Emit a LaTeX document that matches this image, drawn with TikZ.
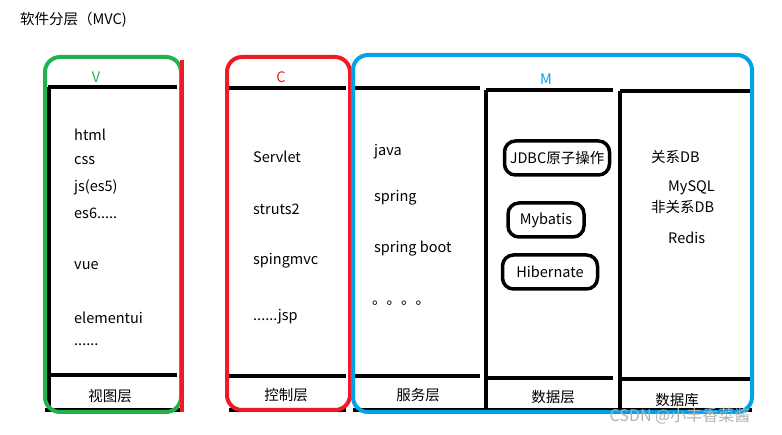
\documentclass[tikz,border=0pt]{standalone}
\usepackage{fontspec}
\setmainfont{Noto Sans CJK SC}
\definecolor{vgreen}{RGB}{34,177,76}
\definecolor{cred}{RGB}{237,28,36}
\definecolor{mblue}{RGB}{0,162,232}
\tikzset{
  txt/.style={anchor=west, inner sep=0, font=\fontsize{14.5}{16}\selectfont},
  lbl/.style={inner sep=0, font=\fontsize{14.5}{16}\selectfont},
  bar/.style={line width=4pt},
  frame/.style={line width=4pt, rounded corners=15pt},
  oval/.style={draw, line width=3.5pt, rounded corners=11pt, inner sep=3pt, minimum height=34pt, font=\fontsize{14.5}{16}\selectfont}
}
\begin{document}
\begin{tikzpicture}[x=1pt,y=-1pt]
\useasboundingbox (0,0) rectangle (782,435);
\node[txt](T)at(20,20){软件分层（MVC)};
% V
\draw[bar](49,87)--(49,412);
\draw[bar](48,87)--(177,87);
\draw[bar](48,375)--(177,375);
\draw[bar](45,410)--(184,410);
\draw[frame, vgreen](45,57) rectangle (181,412);
\draw[line width=4pt, cred](182,60)--(182,412);
\node[lbl, text=vgreen](V)at(96,77){V};
\node[txt](html)at(74,135){html};
\node[txt](css)at(74,161){css};
\node[txt](js)at(74,187){js(es5)};
\node[txt](es6)at(74,213){es6.....};
\node[txt](vue)at(74,266){vue};
\node[txt](eui)at(74,318){elementui};
\node[txt](etc)at(74,345){......};
\node[lbl](view)at(110,396){视图层};
% C
\draw[bar](229,88)--(346,88);
\draw[bar](229,376)--(346,376);
\draw[bar](229,410)--(346,410);
\draw[frame, cred](227,57) rectangle (350,410);
\node[lbl, text=cred](C)at(281,77){C};
\node[txt](srv)at(253,157){Servlet};
\node[txt](st2)at(253,209){struts2};
\node[txt](smvc)at(253,261){spingmvc};
\node[txt](jsp)at(253,317){......jsp};
\node[lbl](ctrl)at(286,395){控制层};
% M
\draw[bar](355,88)--(480,88);
\draw[bar](355,376)--(480,376);
\draw[bar](486,90)--(486,412);
\draw[bar](486,90)--(613,90);
\draw[bar](486,378)--(613,378);
\draw[bar](620,91)--(620,412);
\draw[bar](620,91)--(754,91);
\draw[bar](620,379)--(752,379);
\draw[bar](353,410)--(752,410);
\draw[frame, mblue](353,55) rectangle (752,412);
\node[lbl, text=mblue](M)at(546,79){M};
\node[txt](java)at(374,152){java};
\node[txt](spr)at(374,198){spring};
\node[txt](sprb)at(374,249){spring boot};
\node[txt](dots)at(372,303){。。。。};
\node[lbl](svc)at(418,395){服务层};
\node[oval, minimum width=105pt](jdbc)at(557,158){JDBC原子操作};
\node[oval, minimum width=76pt](mybatis)at(546,220){Mybatis};
\node[oval, minimum width=95pt](hib)at(550,272){Hibernate};
\node[lbl](dao)at(553,397){数据层};
\node[txt](rdb)at(651,157){关系DB};
\node[txt](mysql)at(668,188){MySQL};
\node[txt](nrdb)at(651,207){非关系DB};
\node[txt](redis)at(668,238){Redis};
\node[lbl](db)at(677,400){数据库};
\node[inner sep=0, font=\fontsize{16}{18}\selectfont, text=black!30](wm)at(680,416){CSDN @小丰香菜酱};
\end{tikzpicture}
\end{document}
